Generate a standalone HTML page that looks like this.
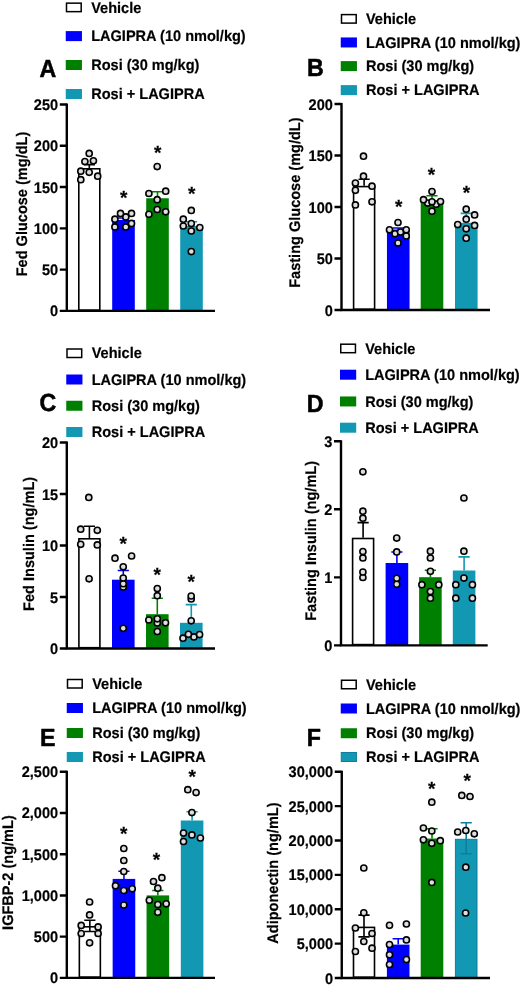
<!DOCTYPE html>
<html lang="en"><head><meta charset="utf-8"><title>Figure</title>
<style>
html,body{margin:0;padding:0;background:#fff}
svg{display:block}
text{font-family:"Liberation Sans",sans-serif;font-weight:bold;fill:#000;stroke:#000;stroke-width:.2px;text-rendering:geometricPrecision}
text.L{stroke:#000;stroke-width:.55px;stroke-linejoin:round}
circle{fill:#dedede;stroke:#000;stroke-width:1.6}
</style>
</head><body>
<svg width="520" height="989" viewBox="0 0 520 989">
<rect width="520" height="989" fill="#fff"/>
<g>
<rect x="78.8" y="168.8" width="21" height="141.3" fill="#fff" stroke="#000" stroke-width="1.6"/>
<path d="M89.3 164.6V168M83.7 164.6h11.2" stroke="#000" stroke-width="1.6" fill="none"/>
<rect x="112.2" y="220" width="22.6" height="90.9" fill="#0000ff"/>
<path d="M123.5 218V220M117.9 218h11.2" stroke="#0000ff" stroke-width="1.6" fill="none"/>
<rect x="146.2" y="198.25" width="22.6" height="112.65" fill="#008000"/>
<path d="M157.5 191.75V198.25M151.9 191.75h11.2" stroke="#008000" stroke-width="1.6" fill="none"/>
<rect x="180.2" y="226" width="22.6" height="84.9" fill="#1398b4"/>
<path d="M191.5 221.75V226M185.9 221.75h11.2" stroke="#1398b4" stroke-width="1.6" fill="none"/>
<path d="M66.8 103.4V310.9H215" stroke="#000" stroke-width="2.4" stroke-linejoin="miter" fill="none"/>
<text transform="translate(58.1 316.4) scale(0.95 1)" font-size="15.3" text-anchor="end">0</text>
<text transform="translate(58.1 275.12) scale(0.95 1)" font-size="15.3" text-anchor="end">50</text>
<text transform="translate(58.1 233.84) scale(0.95 1)" font-size="15.3" text-anchor="end">100</text>
<text transform="translate(58.1 192.56) scale(0.95 1)" font-size="15.3" text-anchor="end">150</text>
<text transform="translate(58.1 151.28) scale(0.95 1)" font-size="15.3" text-anchor="end">200</text>
<text transform="translate(58.1 110) scale(0.95 1)" font-size="15.3" text-anchor="end">250</text>
<path d="M59.8 310.9H66.8M59.8 269.62H66.8M59.8 228.34H66.8M59.8 187.06H66.8M59.8 145.78H66.8M59.8 104.5H66.8" stroke="#000" stroke-width="2.4" fill="none"/>
<text transform="translate(27 204) rotate(-90) scale(0.95 1)" font-size="15.3" text-anchor="middle">Fed Glucose (mg/dL)</text>
<text class="L" transform="translate(39.5 76.7) scale(0.94 1)" font-size="24.7">A</text>
<text x="123.8" y="204.1" font-size="19" text-anchor="middle">*</text>
<text x="157.7" y="158.8" font-size="19" text-anchor="middle">*</text>
<text x="191.7" y="199.9" font-size="19" text-anchor="middle">*</text>
<circle cx="191.3" cy="251.6" r="3.05"/>
<circle cx="191.3" cy="231" r="3.05"/>
<circle cx="199.8" cy="227.5" r="3.05"/>
<circle cx="114.9" cy="226.9" r="3.05"/>
<circle cx="125.8" cy="226.9" r="3.05"/>
<circle cx="183.3" cy="226" r="3.05"/>
<circle cx="191.3" cy="223.5" r="3.05"/>
<circle cx="131.5" cy="223.4" r="3.05"/>
<circle cx="114.9" cy="219.2" r="3.05"/>
<circle cx="183.3" cy="219.2" r="3.05"/>
<circle cx="125.8" cy="216.9" r="3.05"/>
<circle cx="148.9" cy="214.3" r="3.05"/>
<circle cx="120.5" cy="213.4" r="3.05"/>
<circle cx="131.5" cy="213.4" r="3.05"/>
<circle cx="165.7" cy="211.8" r="3.05"/>
<circle cx="191.3" cy="210.4" r="3.05"/>
<circle cx="157.2" cy="209.5" r="3.05"/>
<circle cx="157.2" cy="199.7" r="3.05"/>
<circle cx="148.9" cy="193.5" r="3.05"/>
<circle cx="165.7" cy="191.2" r="3.05"/>
<circle cx="80.8" cy="179.7" r="3.05"/>
<circle cx="97.7" cy="176.2" r="3.05"/>
<circle cx="89.2" cy="172.3" r="3.05"/>
<circle cx="80.8" cy="171.2" r="3.05"/>
<circle cx="157.2" cy="166.6" r="3.05"/>
<circle cx="84.9" cy="161.5" r="3.05"/>
<circle cx="93.4" cy="160.8" r="3.05"/>
<circle cx="89.2" cy="153.4" r="3.05"/>
<rect x="66.5" y="3.15" width="14.7" height="8.5" fill="#fff" stroke="#000" stroke-width="1.5"/>
<text transform="translate(91.2 12.5) scale(0.95 1)" font-size="15.3">Vehicle</text>
<rect x="65.75" y="31.1" width="16.2" height="10" fill="#0000ff"/>
<text transform="translate(91.2 41.2) scale(0.95 1)" font-size="15.3">LAGIPRA (10 nmol/kg)</text>
<rect x="65.75" y="60" width="16.2" height="10" fill="#008000"/>
<text transform="translate(91.2 70.1) scale(0.95 1)" font-size="15.3">Rosi (30 mg/kg)</text>
<rect x="65.75" y="89" width="16.2" height="10" fill="#1398b4"/>
<text transform="translate(91.2 99.1) scale(0.95 1)" font-size="15.3">Rosi + LAGIPRA</text>
</g>
<g>
<rect x="353.6" y="186.6" width="21" height="122.6" fill="#fff" stroke="#000" stroke-width="1.6"/>
<path d="M364.1 179.2V185.8M358.5 179.2h11.2" stroke="#000" stroke-width="1.6" fill="none"/>
<rect x="386.95" y="229.5" width="22.6" height="80.5" fill="#0000ff"/>
<path d="M398.25 228V229.5M392.65 228h11.2" stroke="#0000ff" stroke-width="1.6" fill="none"/>
<rect x="420.7" y="200.8" width="22.6" height="109.2" fill="#008000"/>
<path d="M432 195.8V200.8M426.4 195.8h11.2" stroke="#008000" stroke-width="1.6" fill="none"/>
<rect x="455" y="222.8" width="22.6" height="87.2" fill="#1398b4"/>
<path d="M466.3 213.4V222.8M460.7 213.4h11.2" stroke="#1398b4" stroke-width="1.6" fill="none"/>
<path d="M341.5 102.9V310H490" stroke="#000" stroke-width="2.4" stroke-linejoin="miter" fill="none"/>
<text transform="translate(332.8 315.5) scale(0.95 1)" font-size="15.3" text-anchor="end">0</text>
<text transform="translate(332.8 264) scale(0.95 1)" font-size="15.3" text-anchor="end">50</text>
<text transform="translate(332.8 212.5) scale(0.95 1)" font-size="15.3" text-anchor="end">100</text>
<text transform="translate(332.8 161) scale(0.95 1)" font-size="15.3" text-anchor="end">150</text>
<text transform="translate(332.8 109.5) scale(0.95 1)" font-size="15.3" text-anchor="end">200</text>
<path d="M334.5 310H341.5M334.5 258.5H341.5M334.5 207H341.5M334.5 155.5H341.5M334.5 104H341.5" stroke="#000" stroke-width="2.4" fill="none"/>
<text transform="translate(300.4 202.6) rotate(-90) scale(0.95 1)" font-size="15.3" text-anchor="middle">Fasting Glucose (mg/dL)</text>
<text class="L" transform="translate(306.9 75.8) scale(0.94 1)" font-size="24.7">B</text>
<text x="398.8" y="212.8" font-size="19" text-anchor="middle">*</text>
<text x="431.5" y="181.3" font-size="19" text-anchor="middle">*</text>
<text x="466.5" y="198.5" font-size="19" text-anchor="middle">*</text>
<circle cx="398" cy="243" r="3.05"/>
<circle cx="466.2" cy="238.2" r="3.05"/>
<circle cx="406.25" cy="236" r="3.05"/>
<circle cx="395" cy="233.75" r="3.05"/>
<circle cx="400.5" cy="232" r="3.05"/>
<circle cx="389.5" cy="229.8" r="3.05"/>
<circle cx="406.25" cy="229.8" r="3.05"/>
<circle cx="466.2" cy="228.8" r="3.05"/>
<circle cx="474.6" cy="225.4" r="3.05"/>
<circle cx="457.7" cy="224.6" r="3.05"/>
<circle cx="398" cy="222.5" r="3.05"/>
<circle cx="466.2" cy="219.2" r="3.05"/>
<circle cx="474.6" cy="214.9" r="3.05"/>
<circle cx="432" cy="211.2" r="3.05"/>
<circle cx="466.2" cy="209.2" r="3.05"/>
<circle cx="355.4" cy="204.9" r="3.05"/>
<circle cx="436.2" cy="204.2" r="3.05"/>
<circle cx="427.7" cy="203.1" r="3.05"/>
<circle cx="372" cy="201.8" r="3.05"/>
<circle cx="432" cy="201.8" r="3.05"/>
<circle cx="440.5" cy="201.5" r="3.05"/>
<circle cx="423.5" cy="199.7" r="3.05"/>
<circle cx="432" cy="191.5" r="3.05"/>
<circle cx="355.4" cy="190.3" r="3.05"/>
<circle cx="372" cy="186.2" r="3.05"/>
<circle cx="355.4" cy="183.1" r="3.05"/>
<circle cx="363.5" cy="176.2" r="3.05"/>
<circle cx="363.5" cy="156.2" r="3.05"/>
<rect x="341.5" y="14.6" width="14.7" height="8.5" fill="#fff" stroke="#000" stroke-width="1.5"/>
<text transform="translate(365.95 23.95) scale(0.95 1)" font-size="15.3">Vehicle</text>
<rect x="340.75" y="37.45" width="16.2" height="10" fill="#0000ff"/>
<text transform="translate(365.95 47.55) scale(0.95 1)" font-size="15.3">LAGIPRA (10 nmol/kg)</text>
<rect x="340.75" y="61.1" width="16.2" height="10" fill="#008000"/>
<text transform="translate(365.95 71.2) scale(0.95 1)" font-size="15.3">Rosi (30 mg/kg)</text>
<rect x="340.75" y="85.1" width="16.2" height="10" fill="#1398b4"/>
<text transform="translate(365.95 95.2) scale(0.95 1)" font-size="15.3">Rosi + LAGIPRA</text>
</g>
<g>
<rect x="78.9" y="538.8" width="21" height="108.9" fill="#fff" stroke="#000" stroke-width="1.6"/>
<path d="M89.4 526.2V538M83.8 526.2h11.2" stroke="#000" stroke-width="1.6" fill="none"/>
<rect x="112" y="579.7" width="22.6" height="68.8" fill="#0000ff"/>
<path d="M123.3 570.5V579.7M117.7 570.5h11.2" stroke="#0000ff" stroke-width="1.6" fill="none"/>
<rect x="146" y="614.2" width="22.6" height="34.3" fill="#008000"/>
<path d="M157.3 598.2V614.2M151.7 598.2h11.2" stroke="#008000" stroke-width="1.6" fill="none"/>
<rect x="180" y="622.8" width="22.6" height="25.7" fill="#1398b4"/>
<path d="M191.3 604.6V622.8M185.7 604.6h11.2" stroke="#1398b4" stroke-width="1.6" fill="none"/>
<path d="M66.8 441.4V648.5H215" stroke="#000" stroke-width="2.4" stroke-linejoin="miter" fill="none"/>
<text transform="translate(58.1 654) scale(0.95 1)" font-size="15.3" text-anchor="end">0</text>
<text transform="translate(58.1 602.5) scale(0.95 1)" font-size="15.3" text-anchor="end">5</text>
<text transform="translate(58.1 551) scale(0.95 1)" font-size="15.3" text-anchor="end">10</text>
<text transform="translate(58.1 499.5) scale(0.95 1)" font-size="15.3" text-anchor="end">15</text>
<text transform="translate(58.1 448) scale(0.95 1)" font-size="15.3" text-anchor="end">20</text>
<path d="M59.8 648.5H66.8M59.8 597H66.8M59.8 545.5H66.8M59.8 494H66.8M59.8 442.5H66.8" stroke="#000" stroke-width="2.4" fill="none"/>
<text transform="translate(34.4 543.9) rotate(-90) scale(0.95 1)" font-size="15.3" text-anchor="middle">Fed Insulin (ng/mL)</text>
<text class="L" transform="translate(39.6 411.1) scale(0.94 1)" font-size="24.7">C</text>
<text x="123.2" y="550.1" font-size="19" text-anchor="middle">*</text>
<text x="157.3" y="581.3" font-size="19" text-anchor="middle">*</text>
<text x="191.2" y="587.5" font-size="19" text-anchor="middle">*</text>
<circle cx="183" cy="638.2" r="3.05"/>
<circle cx="193.9" cy="636.9" r="3.05"/>
<circle cx="199.6" cy="634.6" r="3.05"/>
<circle cx="188.4" cy="634.3" r="3.05"/>
<circle cx="157.3" cy="631.5" r="3.05"/>
<circle cx="123.25" cy="628.25" r="3.05"/>
<circle cx="157.3" cy="623.1" r="3.05"/>
<circle cx="165.5" cy="622.8" r="3.05"/>
<circle cx="191.2" cy="620.8" r="3.05"/>
<circle cx="148.8" cy="620" r="3.05"/>
<circle cx="157.3" cy="618.8" r="3.05"/>
<circle cx="191.2" cy="599" r="3.05"/>
<circle cx="191.2" cy="596" r="3.05"/>
<circle cx="157.3" cy="595.7" r="3.05"/>
<circle cx="157.3" cy="588.5" r="3.05"/>
<circle cx="123.25" cy="587" r="3.05"/>
<circle cx="123.25" cy="583.75" r="3.05"/>
<circle cx="89.1" cy="578.8" r="3.05"/>
<circle cx="123.25" cy="578" r="3.05"/>
<circle cx="123.25" cy="566.8" r="3.05"/>
<circle cx="115" cy="558.2" r="3.05"/>
<circle cx="131.6" cy="556" r="3.05"/>
<circle cx="97.3" cy="544.9" r="3.05"/>
<circle cx="80.7" cy="544.3" r="3.05"/>
<circle cx="97.3" cy="530.3" r="3.05"/>
<circle cx="80.7" cy="529.2" r="3.05"/>
<circle cx="88.8" cy="497.4" r="3.05"/>
<rect x="67" y="349" width="14.7" height="8.5" fill="#fff" stroke="#000" stroke-width="1.5"/>
<text transform="translate(91.7 358.35) scale(0.95 1)" font-size="15.3">Vehicle</text>
<rect x="66.25" y="374.5" width="16.2" height="10" fill="#0000ff"/>
<text transform="translate(91.7 384.6) scale(0.95 1)" font-size="15.3">LAGIPRA (10 nmol/kg)</text>
<rect x="66.25" y="400.75" width="16.2" height="10" fill="#008000"/>
<text transform="translate(91.7 410.85) scale(0.95 1)" font-size="15.3">Rosi (30 mg/kg)</text>
<rect x="66.25" y="427" width="16.2" height="10" fill="#1398b4"/>
<text transform="translate(91.7 437.1) scale(0.95 1)" font-size="15.3">Rosi + LAGIPRA</text>
</g>
<g>
<rect x="352.6" y="538.5" width="21" height="106.1" fill="#fff" stroke="#000" stroke-width="1.6"/>
<path d="M363.1 522.6V537.7M357.5 522.6h11.2" stroke="#000" stroke-width="1.6" fill="none"/>
<rect x="385.6" y="563" width="22.6" height="82.4" fill="#0000ff"/>
<path d="M396.9 552V563M391.3 552h11.2" stroke="#0000ff" stroke-width="1.6" fill="none"/>
<rect x="419.1" y="577.2" width="22.6" height="68.2" fill="#008000"/>
<path d="M430.4 570.3V577.2M424.8 570.3h11.2" stroke="#008000" stroke-width="1.6" fill="none"/>
<rect x="452.8" y="570.5" width="22.6" height="74.9" fill="#1398b4"/>
<path d="M464.1 556.9V570.5M458.5 556.9h11.2" stroke="#1398b4" stroke-width="1.6" fill="none"/>
<path d="M341 440.15V645.4H487.7" stroke="#000" stroke-width="2.4" stroke-linejoin="miter" fill="none"/>
<text transform="translate(332.3 650.9) scale(0.95 1)" font-size="15.3" text-anchor="end">0</text>
<text transform="translate(332.3 582.85) scale(0.95 1)" font-size="15.3" text-anchor="end">1</text>
<text transform="translate(332.3 514.8) scale(0.95 1)" font-size="15.3" text-anchor="end">2</text>
<text transform="translate(332.3 446.75) scale(0.95 1)" font-size="15.3" text-anchor="end">3</text>
<path d="M334 645.4H341M334 577.35H341M334 509.3H341M334 441.25H341" stroke="#000" stroke-width="2.4" fill="none"/>
<text transform="translate(316.2 540.9) rotate(-90) scale(0.95 1)" font-size="15.3" text-anchor="middle">Fasting Insulin (ng/mL)</text>
<text class="L" transform="translate(306.8 411.5) scale(0.94 1)" font-size="24.7">D</text>
<circle cx="430.4" cy="598.2" r="3.05"/>
<circle cx="455.8" cy="598.2" r="3.05"/>
<circle cx="472.4" cy="598.2" r="3.05"/>
<circle cx="430.4" cy="591.5" r="3.05"/>
<circle cx="421.9" cy="584.7" r="3.05"/>
<circle cx="438.8" cy="584.7" r="3.05"/>
<circle cx="455.8" cy="584.7" r="3.05"/>
<circle cx="472.4" cy="584.7" r="3.05"/>
<circle cx="396.7" cy="584.25" r="3.05"/>
<circle cx="396.7" cy="578.25" r="3.05"/>
<circle cx="463.9" cy="578.1" r="3.05"/>
<circle cx="362.9" cy="577.5" r="3.05"/>
<circle cx="362.9" cy="572" r="3.05"/>
<circle cx="430.4" cy="571.3" r="3.05"/>
<circle cx="430.4" cy="558" r="3.05"/>
<circle cx="362.9" cy="557.9" r="3.05"/>
<circle cx="396.7" cy="551.9" r="3.05"/>
<circle cx="362.9" cy="551.6" r="3.05"/>
<circle cx="430.4" cy="551.2" r="3.05"/>
<circle cx="463.9" cy="551.2" r="3.05"/>
<circle cx="396.7" cy="538.1" r="3.05"/>
<circle cx="362.9" cy="518.2" r="3.05"/>
<circle cx="362.9" cy="511.2" r="3.05"/>
<circle cx="463.9" cy="498" r="3.05"/>
<circle cx="362.9" cy="471.8" r="3.05"/>
<rect x="340.75" y="344.2" width="14.7" height="8.5" fill="#fff" stroke="#000" stroke-width="1.5"/>
<text transform="translate(365.2 353.55) scale(0.95 1)" font-size="15.3">Vehicle</text>
<rect x="340" y="369.7" width="16.2" height="10" fill="#0000ff"/>
<text transform="translate(365.2 379.8) scale(0.95 1)" font-size="15.3">LAGIPRA (10 nmol/kg)</text>
<rect x="340" y="396.45" width="16.2" height="10" fill="#008000"/>
<text transform="translate(365.2 406.55) scale(0.95 1)" font-size="15.3">Rosi (30 mg/kg)</text>
<rect x="340" y="422.7" width="16.2" height="10" fill="#1398b4"/>
<text transform="translate(365.2 432.8) scale(0.95 1)" font-size="15.3">Rosi + LAGIPRA</text>
</g>
<g>
<rect x="79.35" y="926.8" width="21" height="50.3" fill="#fff" stroke="#000" stroke-width="1.6"/>
<path d="M89.85 920.3V931.5M84.25 920.3h11.2M84.25 931.5h11.2" stroke="#000" stroke-width="1.6" fill="none"/>
<rect x="112.65" y="878.9" width="22.6" height="99" fill="#0000ff"/>
<path d="M123.95 871.2V878.9M118.35 871.2h11.2" stroke="#0000ff" stroke-width="1.6" fill="none"/>
<rect x="146.55" y="895.4" width="22.6" height="82.5" fill="#008000"/>
<path d="M157.85 890.5V895.4M152.25 890.5h11.2" stroke="#008000" stroke-width="1.6" fill="none"/>
<rect x="180.8" y="820.5" width="22.6" height="157.4" fill="#1398b4"/>
<path d="M192.1 811.8V820.5M186.5 811.8h11.2" stroke="#1398b4" stroke-width="1.6" fill="none"/>
<path d="M66.8 770.65V977.9H215" stroke="#000" stroke-width="2.4" stroke-linejoin="miter" fill="none"/>
<text transform="translate(58.1 983.4) scale(0.95 1)" font-size="15.3" text-anchor="end">0</text>
<text transform="translate(58.1 942.17) scale(0.95 1)" font-size="15.3" text-anchor="end">500</text>
<text transform="translate(58.1 900.94) scale(0.95 1)" font-size="15.3" text-anchor="end">1,000</text>
<text transform="translate(58.1 859.71) scale(0.95 1)" font-size="15.3" text-anchor="end">1,500</text>
<text transform="translate(58.1 818.48) scale(0.95 1)" font-size="15.3" text-anchor="end">2,000</text>
<text transform="translate(58.1 777.25) scale(0.95 1)" font-size="15.3" text-anchor="end">2,500</text>
<path d="M59.8 977.9H66.8M59.8 936.67H66.8M59.8 895.44H66.8M59.8 854.21H66.8M59.8 812.98H66.8M59.8 771.75H66.8" stroke="#000" stroke-width="2.4" fill="none"/>
<text transform="translate(12.9 872.6) rotate(-90) scale(0.95 1)" font-size="15.3" text-anchor="middle">IGFBP-2 (ng/mL)</text>
<text class="L" transform="translate(40 746.3) scale(0.94 1)" font-size="24.7">E</text>
<text x="123.8" y="840.1" font-size="19" text-anchor="middle">*</text>
<text x="156.5" y="865.8" font-size="19" text-anchor="middle">*</text>
<text x="192.2" y="782.7" font-size="19" text-anchor="middle">*</text>
<circle cx="89.6" cy="942.8" r="3.05"/>
<circle cx="81.2" cy="933.5" r="3.05"/>
<circle cx="98.1" cy="933.5" r="3.05"/>
<circle cx="98.1" cy="926.9" r="3.05"/>
<circle cx="81.2" cy="925.4" r="3.05"/>
<circle cx="89.6" cy="914.9" r="3.05"/>
<circle cx="157.8" cy="912.3" r="3.05"/>
<circle cx="123.8" cy="905" r="3.05"/>
<circle cx="157.8" cy="904.6" r="3.05"/>
<circle cx="166.2" cy="903.8" r="3.05"/>
<circle cx="89.6" cy="902" r="3.05"/>
<circle cx="149.3" cy="900.3" r="3.05"/>
<circle cx="123.8" cy="890.5" r="3.05"/>
<circle cx="132.2" cy="888.8" r="3.05"/>
<circle cx="157.8" cy="888.2" r="3.05"/>
<circle cx="115.5" cy="885.7" r="3.05"/>
<circle cx="153.5" cy="881.5" r="3.05"/>
<circle cx="161.9" cy="877.7" r="3.05"/>
<circle cx="123.8" cy="871.5" r="3.05"/>
<circle cx="123.8" cy="860.5" r="3.05"/>
<circle cx="123.8" cy="848.5" r="3.05"/>
<circle cx="183.5" cy="841.5" r="3.05"/>
<circle cx="200.4" cy="838" r="3.05"/>
<circle cx="191.9" cy="834.9" r="3.05"/>
<circle cx="183.5" cy="833.1" r="3.05"/>
<circle cx="191.9" cy="812.6" r="3.05"/>
<circle cx="196.1" cy="792.6" r="3.05"/>
<circle cx="187.8" cy="789.7" r="3.05"/>
<rect x="67.5" y="679.5" width="14.7" height="8.5" fill="#fff" stroke="#000" stroke-width="1.5"/>
<text transform="translate(92.2 688.85) scale(0.95 1)" font-size="15.3">Vehicle</text>
<rect x="66.75" y="703" width="16.2" height="10" fill="#0000ff"/>
<text transform="translate(92.2 713.1) scale(0.95 1)" font-size="15.3">LAGIPRA (10 nmol/kg)</text>
<rect x="66.75" y="728" width="16.2" height="10" fill="#008000"/>
<text transform="translate(92.2 738.1) scale(0.95 1)" font-size="15.3">Rosi (30 mg/kg)</text>
<rect x="66.75" y="752" width="16.2" height="10" fill="#1398b4"/>
<text transform="translate(92.2 762.1) scale(0.95 1)" font-size="15.3">Rosi + LAGIPRA</text>
</g>
<g>
<rect x="353.5" y="927.4" width="21" height="49.8" fill="#fff" stroke="#000" stroke-width="1.6"/>
<path d="M364 915.1V936.9M358.4 915.1h11.2M358.4 936.9h11.2" stroke="#000" stroke-width="1.6" fill="none"/>
<rect x="386.9" y="944.6" width="22.6" height="33.4" fill="#0000ff"/>
<path d="M398.2 938.8V944.6M392.6 938.8h11.2" stroke="#0000ff" stroke-width="1.6" fill="none"/>
<rect x="420.7" y="838.5" width="22.6" height="139.5" fill="#008000"/>
<path d="M432 828.8V838.5M426.4 828.8h11.2" stroke="#008000" stroke-width="1.6" fill="none"/>
<rect x="455.4" y="839.3" width="21.6" height="139.2" fill="#1398b4" stroke="#0d7f9a" stroke-width="1"/>
<path d="M466.2 822.8V853.8M460.6 822.8h11.2M460.6 853.8h11.2" stroke="#0d7f9a" stroke-width="1.6" fill="none"/>
<path d="M341.75 770.65V978H490" stroke="#000" stroke-width="2.4" stroke-linejoin="miter" fill="none"/>
<text transform="translate(333.05 983.5) scale(0.95 1)" font-size="15.3" text-anchor="end">0</text>
<text transform="translate(333.05 949.12) scale(0.95 1)" font-size="15.3" text-anchor="end">5,000</text>
<text transform="translate(333.05 914.75) scale(0.95 1)" font-size="15.3" text-anchor="end">10,000</text>
<text transform="translate(333.05 880.38) scale(0.95 1)" font-size="15.3" text-anchor="end">15,000</text>
<text transform="translate(333.05 846) scale(0.95 1)" font-size="15.3" text-anchor="end">20,000</text>
<text transform="translate(333.05 811.62) scale(0.95 1)" font-size="15.3" text-anchor="end">25,000</text>
<text transform="translate(333.05 777.25) scale(0.95 1)" font-size="15.3" text-anchor="end">30,000</text>
<path d="M334.75 978H341.75M334.75 943.62H341.75M334.75 909.25H341.75M334.75 874.88H341.75M334.75 840.5H341.75M334.75 806.12H341.75M334.75 771.75H341.75" stroke="#000" stroke-width="2.4" fill="none"/>
<text transform="translate(278.2 873.1) rotate(-90) scale(0.95 1)" font-size="15.3" text-anchor="middle">Adiponectin (ng/mL)</text>
<text class="L" transform="translate(306.7 746.3) scale(0.94 1)" font-size="24.7">F</text>
<text x="431.8" y="795.1" font-size="19" text-anchor="middle">*</text>
<text x="467.2" y="787" font-size="19" text-anchor="middle">*</text>
<circle cx="389.5" cy="964.5" r="3.05"/>
<circle cx="406.4" cy="959.5" r="3.05"/>
<circle cx="389.5" cy="954.7" r="3.05"/>
<circle cx="355.4" cy="951.5" r="3.05"/>
<circle cx="372" cy="948.2" r="3.05"/>
<circle cx="389.5" cy="944.5" r="3.05"/>
<circle cx="363.8" cy="941.5" r="3.05"/>
<circle cx="406.4" cy="939.9" r="3.05"/>
<circle cx="372" cy="933.5" r="3.05"/>
<circle cx="355.4" cy="928" r="3.05"/>
<circle cx="389.5" cy="925.3" r="3.05"/>
<circle cx="406.4" cy="924" r="3.05"/>
<circle cx="465.6" cy="913" r="3.05"/>
<circle cx="363.8" cy="912.8" r="3.05"/>
<circle cx="431.8" cy="882.4" r="3.05"/>
<circle cx="363.8" cy="868" r="3.05"/>
<circle cx="465.8" cy="867.2" r="3.05"/>
<circle cx="431.8" cy="843.3" r="3.05"/>
<circle cx="440.3" cy="840.7" r="3.05"/>
<circle cx="423.4" cy="839.8" r="3.05"/>
<circle cx="474.3" cy="833.8" r="3.05"/>
<circle cx="457.7" cy="832" r="3.05"/>
<circle cx="431.8" cy="831" r="3.05"/>
<circle cx="465.8" cy="830.5" r="3.05"/>
<circle cx="423.4" cy="828" r="3.05"/>
<circle cx="431.8" cy="802.2" r="3.05"/>
<circle cx="470" cy="796.5" r="3.05"/>
<circle cx="461.8" cy="795.4" r="3.05"/>
<rect x="341.5" y="680.25" width="14.7" height="8.5" fill="#fff" stroke="#000" stroke-width="1.5"/>
<text transform="translate(365.95 689.6) scale(0.95 1)" font-size="15.3">Vehicle</text>
<rect x="340.75" y="703.5" width="16.2" height="10" fill="#0000ff"/>
<text transform="translate(365.95 713.6) scale(0.95 1)" font-size="15.3">LAGIPRA (10 nmol/kg)</text>
<rect x="340.75" y="728.25" width="16.2" height="10" fill="#008000"/>
<text transform="translate(365.95 738.35) scale(0.95 1)" font-size="15.3">Rosi (30 mg/kg)</text>
<rect x="341.25" y="752.5" width="15.2" height="9" fill="#1398b4" stroke="#0d7f9a" stroke-width="1"/>
<text transform="translate(365.95 762.1) scale(0.95 1)" font-size="15.3">Rosi + LAGIPRA</text>
</g>
</svg>
</body></html>
